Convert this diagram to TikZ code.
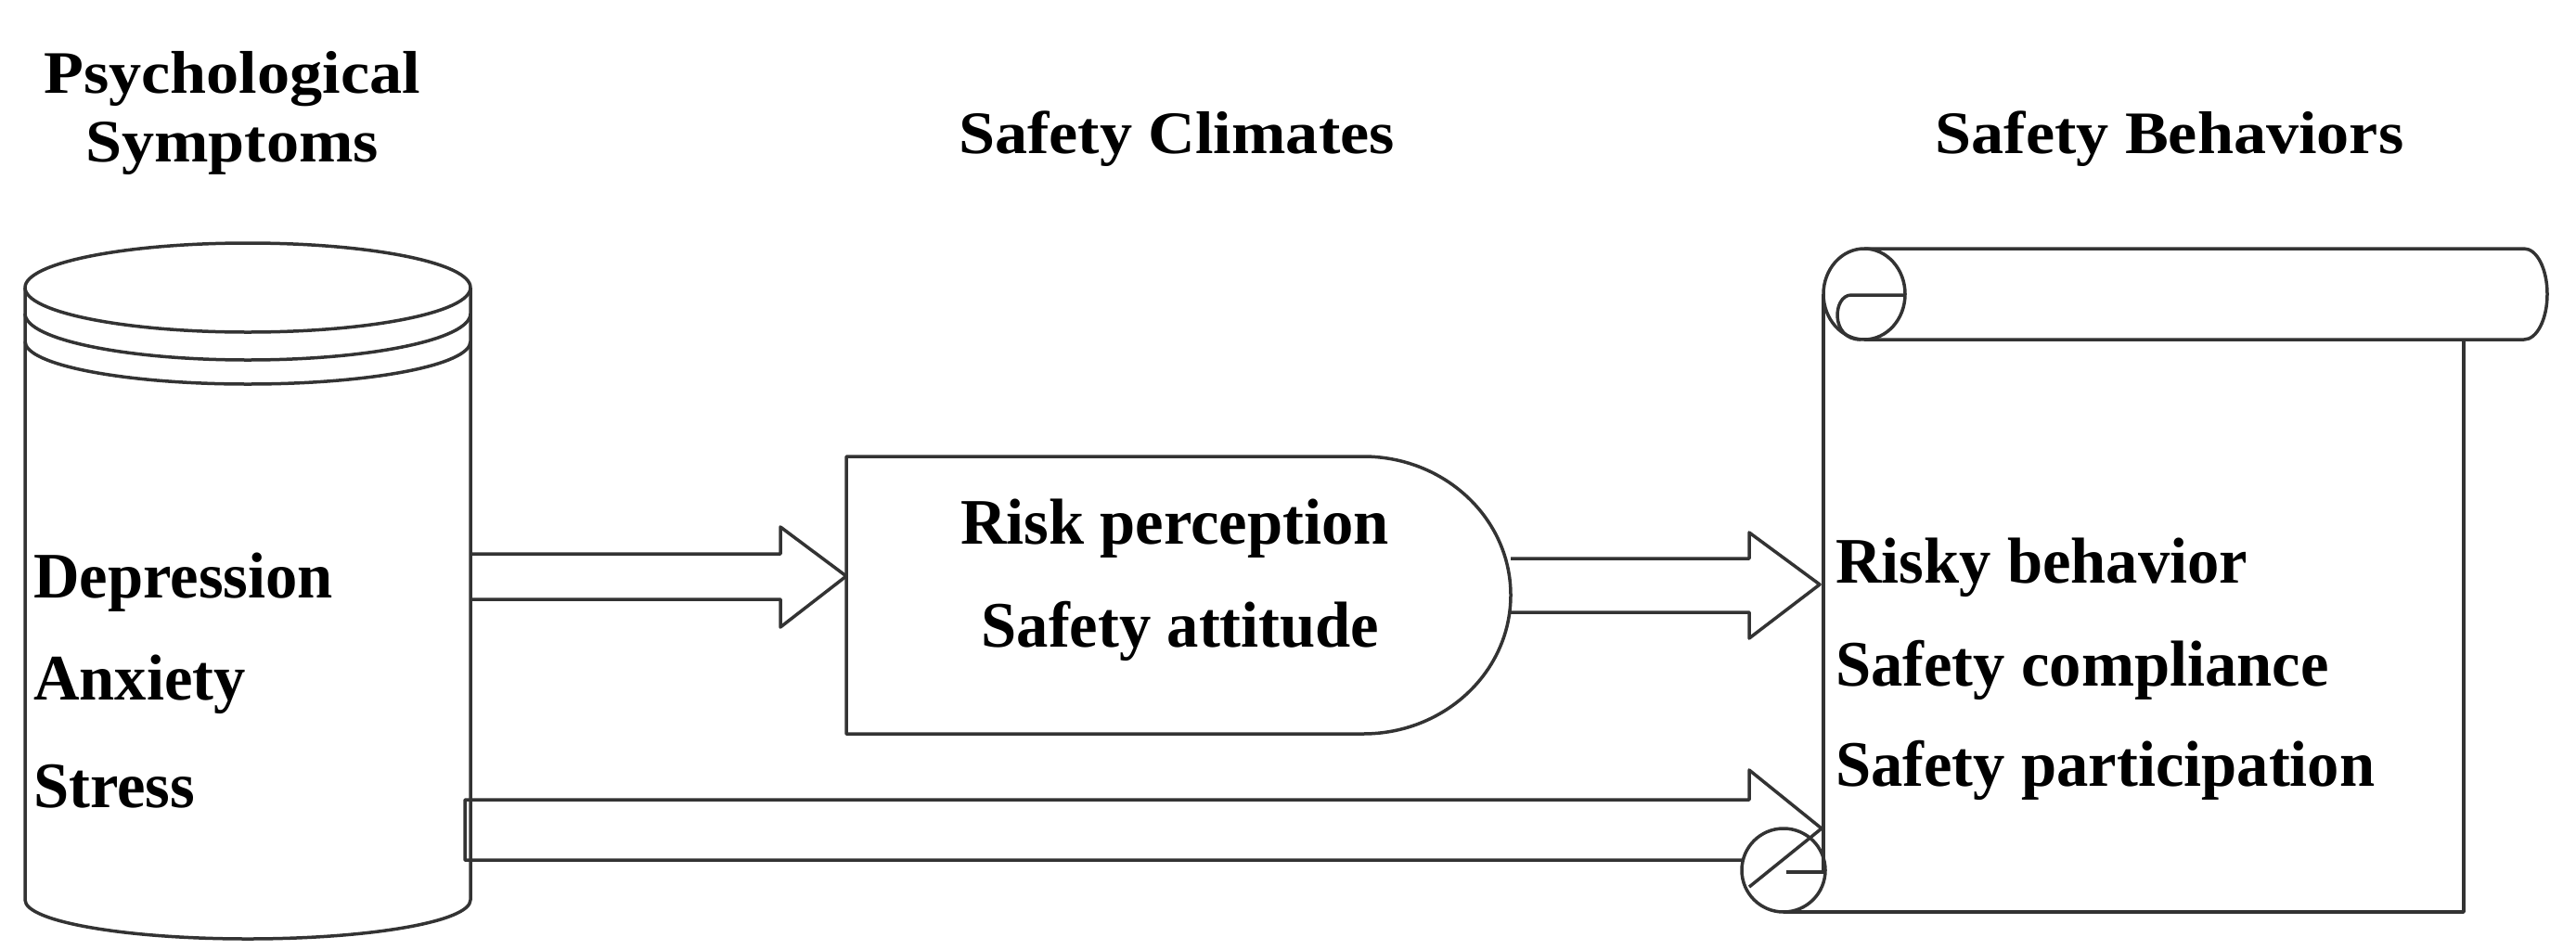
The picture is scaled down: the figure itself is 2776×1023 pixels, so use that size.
\documentclass[tikz,border=0pt]{standalone}
\usepackage{fontspec}
\setmainfont{Liberation Serif}
\newfontfamily\hfont[FakeStretch=1.08]{Liberation Serif}
\newfontfamily\bfont[FakeStretch=0.98]{Liberation Serif}
\begin{document}
\begin{tikzpicture}[x=1pt,y=-1pt,
  ln/.style={line width=3.5pt,draw=black!80,line join=round},
  head/.style={font=\hfont\bfseries\fontsize{65}{72}\selectfont,align=center,inner sep=0pt},
  item/.style={font=\bfont\bfseries\fontsize{70}{78}\selectfont,inner sep=0pt}]
\useasboundingbox (0,0) rectangle (2776,1023);
% headers
\node[head] (h1) at (250,122) {Psychological\\[2pt]Symptoms};
\node[head] (h2) at (1268,150) {Safety Climates};
\node[head] (h3) at (2338,150) {Safety Behaviors};
% cylinder
\draw[ln] (267,310) ellipse[x radius=240,y radius=48];
\draw[ln] (507,338) arc[start angle=0,end angle=180,x radius=240,y radius=50];
\draw[ln] (507,368) arc[start angle=0,end angle=180,x radius=240,y radius=46];
\draw[ln] (27,310) -- (27,970) arc[start angle=180,end angle=0,x radius=240,y radius=42] -- (507,310);
\node[item,anchor=west] (d1) at (36,628) {Depression};
\node[item,anchor=west] (d2) at (36,738) {Anxiety};
\node[item,anchor=west] (d3) at (36,848) {Stress};
% middle shape
\draw[ln] (912,492) -- (1469,492) arc[start angle=-90,end angle=90,x radius=159,y radius=149.5] -- (912,791) -- cycle;
\node[item] (m1) at (1266,570) {Risk perception};
\node[item] (m2) at (1272,680) {Safety attitude};
% scroll
\draw[ln] (2009,317) ellipse[x radius=44,y radius=49];
\draw[ln] (2009,268) -- (2720,268) arc[start angle=-90,end angle=90,x radius=25,y radius=49] -- (2009,366);
\draw[ln] (2053,318) -- (1995,318) .. controls (1975,318) and (1972,366) .. (2005,366);
\draw[ln] (1965,317) -- (1965,940) -- (1925,940);
\draw[ln] (2655,366) -- (2655,983) -- (1922,983);
\draw[ln] (1922,938) circle[radius=45];
\node[item,anchor=west] (s1) at (1978,612) {Risky behavior};
\node[item,anchor=west] (s2) at (1978,722) {Safety compliance};
\node[item,anchor=west] (s3) at (1978,830) {Safety participation};
% arrows
\draw[ln] (508,597) -- (841,597) -- (841,568) -- (912,621) -- (841,676) -- (841,646) -- (508,646);
\draw[ln] (1628,602) -- (1885,602) -- (1885,574) -- (1961,630) -- (1885,688) -- (1885,660) -- (1628,660);
\draw[ln] (1877,927) -- (501,927) -- (501,862) -- (1885,862) -- (1885,830) -- (1963,893) -- (1885,956);
\end{tikzpicture}
\end{document}
